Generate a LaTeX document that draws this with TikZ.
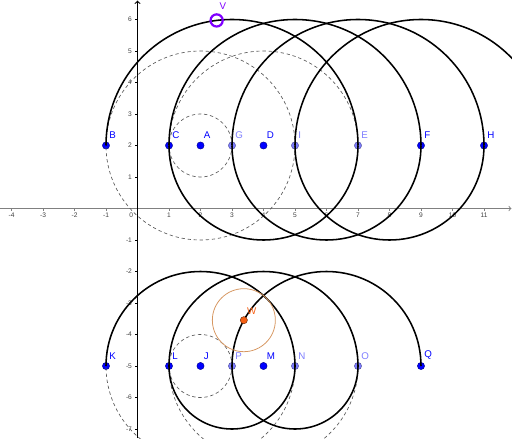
\documentclass[tikz,border=0pt]{standalone}
\usepackage{fontspec}
\setmainfont{Liberation Sans}
\usetikzlibrary{arrows, positioning}

\definecolor{ggblue}{RGB}{0,0,255}
\definecolor{gglight}{RGB}{125,125,255}
\definecolor{ggviolet}{RGB}{127,0,255}
\definecolor{ggorange}{RGB}{245,95,20}
\definecolor{ggtan}{RGB}{214,150,96}

\begin{document}
\begin{tikzpicture} [
						x=1cm, y=1cm,
						pt/.style={circle, fill=ggblue, draw=ggblue!55!black, line width=0.4pt, inner sep=0pt, minimum size=6.5pt},
						ptl/.style={pt, fill=gglight, draw=gglight!60!black},
						lbl/.style={inner sep=0pt, text=ggblue, font=\fontsize{8.8}{10}\selectfont},
						lbll/.style={lbl, text=gglight},
						tick/.style={inner sep=0pt, text=black!75, font=\fontsize{6}{7}\selectfont},
						half/.style={line width=1.4pt},
						aux/.style={line width=0.6pt, black!65, dash pattern=on 3pt off 2.5pt}
					]

\path [use as bounding box, clip] (-4.365,-7.286) rectangle (11.889,6.619);

\draw [black!50, line width=0.8pt, ->] (-4.365,0) -- (11.87,0);
\draw [black, line width=1pt, ->] (0,-7.286) -- (0,6.60);
\foreach \i in {-4,-3,-2,-1,1,2,3,4,5,6,7,8,9,10,11} {
	\draw [black!50, line width=0.5pt] (\i,0) -- (\i,-0.08);
	\node (x\i) [tick, anchor=north] at (\i,-0.13) {\i};
}
\foreach \i in {-7,-6,-5,-4,-3,-2,-1,1,2,3,4,5,6} {
	\draw [black, line width=0.5pt] (0,\i) -- (-0.08,\i);
	\node (y\i) [tick, anchor=east] at (-0.17,\i) {\i};
}
\node (x0) [tick, anchor=north east] at (-0.13,-0.13) {0};

\node (B) [pt]  at (-1,2) {};
\node (C) [pt]  at (1,2) {};
\node (A) [pt]  at (2,2) {};
\node (G) [ptl] at (3,2) {};
\node (D) [pt]  at (4,2) {};
\node (I) [ptl] at (5,2) {};
\node (E) [ptl] at (7,2) {};
\node (F) [pt]  at (9,2) {};
\node (H) [pt]  at (11,2) {};

\node (K) [pt]  at (-1,-5) {};
\node (L) [pt]  at (1,-5) {};
\node (J) [pt]  at (2,-5) {};
\node (P) [ptl] at (3,-5) {};
\node (M) [pt]  at (4,-5) {};
\node (N) [ptl] at (5,-5) {};
\node (O) [ptl] at (7,-5) {};
\node (Q) [pt]  at (9,-5) {};

\draw [aux] (A.center) circle[radius=1];
\draw [aux] (A.center) circle[radius=3];
\draw [aux] (D.center) circle[radius=3];
\draw [aux] (J.center) circle[radius=1];
\draw [aux] (J.center) circle[radius=3];
\draw [aux] (M.center) circle[radius=3];

\draw [half] (B.center) arc[start angle=180, end angle=0, radius=4];
\draw [half] (C.center) arc[start angle=180, end angle=0, radius=4];
\draw [half] (G.center) arc[start angle=180, end angle=0, radius=4];
\draw [half] (I.center) arc[start angle=180, end angle=0, radius=4];
\draw [half] (C.center) arc[start angle=180, end angle=360, radius=3];
\draw [half] (G.center) arc[start angle=180, end angle=360, radius=3];
\draw [half] (I.center) arc[start angle=180, end angle=360, radius=3];

\draw [half] (K.center) arc[start angle=180, end angle=0, radius=3];
\draw [half] (L.center) arc[start angle=180, end angle=0, radius=3];
\draw [half] (P.center) arc[start angle=180, end angle=0, radius=3];
\draw [half] (L.center) arc[start angle=180, end angle=360, radius=2];
\draw [half] (P.center) arc[start angle=180, end angle=360, radius=2];

\node (W) [pt, fill=ggorange, draw=ggorange!45!black] at ([shift={(151:3)}]6,-5) {};
\draw [ggtan, line width=0.7pt] (W.center) circle[radius=1];
\node (V) [circle, draw=ggviolet, line width=2pt, inner sep=0pt, minimum size=11pt] at ([shift={(97:4)}]3,2) {};

\foreach \p in {B,C,A,D,F,H,K,L,J,M,Q}
	\node [lbl, above right=0.2cm and 0.1cm of \p.center] {\p};
\foreach \p in {G,I,E,P,N,O}
	\node [lbll, above right=0.2cm and 0.1cm of \p.center] {\p};
\node [lbl, text=ggviolet, above right=0.34cm and 0.09cm of V.center] {V};
\node [lbl, text=ggorange, above right=0.18cm and 0.1cm of W.center] {W};
\end{tikzpicture}
\end{document}
